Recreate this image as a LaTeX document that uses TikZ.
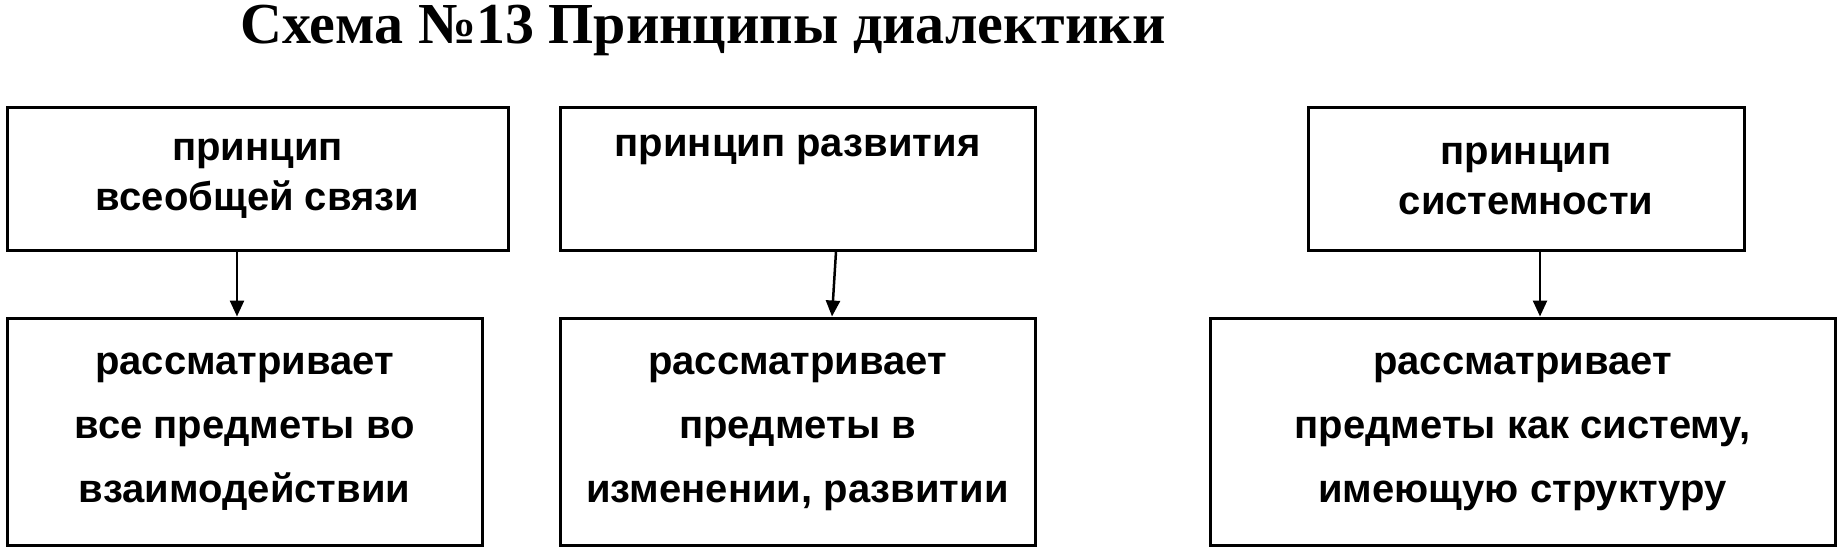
\documentclass[tikz,border=0pt]{standalone}
\usepackage{fontspec}
\setmainfont{Liberation Sans}
\newfontfamily\titlefont{Liberation Serif}
\usetikzlibrary{arrows.meta}
\begin{document}
\begin{tikzpicture}[x=1pt,y=-1pt,
  box/.style={draw,line width=3pt,inner sep=0pt,align=center,font=\fontsize{40}{64}\selectfont\bfseries},
  tbox/.style={box,font=\fontsize{40}{50}\selectfont\bfseries},
  arr/.style={line width=2.5pt,-{Triangle[length=16pt,width=14pt]}}]
\useasboundingbox (0,0) rectangle (1846,554);
\node[font=\titlefont\fontsize{58}{60}\selectfont\bfseries] (title) at (703,30) {Схема №13 Принципы диалектики};
\node[tbox,minimum width=501pt,minimum height=143pt] (a1) at (257.5,178.5) {принцип\\всеобщей связи};
\node[tbox,minimum width=475pt,minimum height=143pt] (a2) at (797.5,178.5) {принцип развития\\[16pt]\mbox{}};
\node[tbox,minimum width=436pt,minimum height=143pt] (a3) at (1526,178.5) {принцип\\системности};
\node[box,minimum width=475pt,minimum height=227pt] (b1) at (244.5,431.5) {рассматривает\\все предметы во\\взаимодействии};
\node[box,minimum width=475pt,minimum height=227pt] (b2) at (797.5,431.5) {рассматривает\\предметы в\\изменении, развитии};
\node[box,minimum width=625pt,minimum height=227pt] (b3) at (1522.5,431.5) {рассматривает\\предметы как систему,\\имеющую структуру};
\draw[arr] (a1.south -| 237,0) -- (b1.north -| 237,0);
\draw[arr] (a2.south -| 836,0) -- (b2.north -| 832,0);
\draw[arr] (a3.south -| 1540,0) -- (b3.north -| 1540,0);
\end{tikzpicture}
\end{document}
